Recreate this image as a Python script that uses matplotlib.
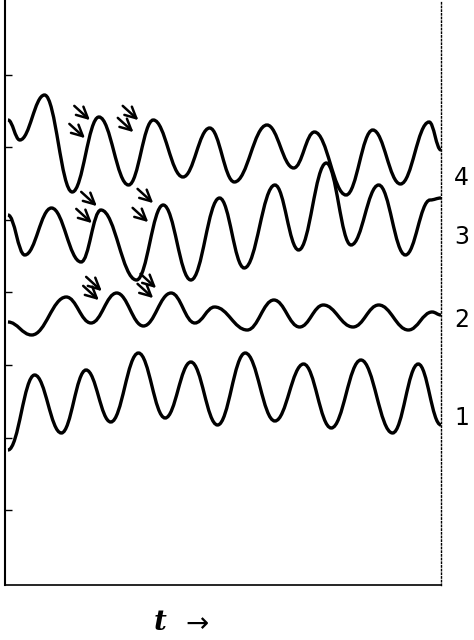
import matplotlib
matplotlib.use("Agg")
import matplotlib.pyplot as plt
from matplotlib.path import Path
from matplotlib.patches import PathPatch

# extrema (x = time, y = signal, screen units, down is larger)
t1 = [3, 30, 57, 82, 107, 135, 162, 188, 215, 243, 273, 302, 330, 360, 392, 418, 441]
y1 = [450, 375, 433, 370, 422, 353, 418, 362, 425, 353, 421, 364, 428, 360, 433, 364, 425]

t2 = [3, 27, 62, 87, 113, 140, 168, 192, 212, 245, 272, 298, 322, 352, 378, 408, 432, 441]
y2 = [322, 335, 297, 323, 293, 326, 293, 323, 307, 330, 300, 327, 305, 327, 305, 330, 312, 315]

t3 = [3, 20, 47, 77, 97, 133, 160, 188, 217, 242, 273, 297, 325, 350, 378, 405, 430, 441]
y3 = [215, 255, 208, 262, 210, 280, 205, 280, 198, 268, 185, 250, 163, 245, 185, 255, 200, 198]

t4 = [3, 15, 40, 68, 95, 125, 150, 180, 207, 232, 265, 292, 313, 345, 372, 400, 429, 441]
y4 = [120, 140, 95, 192, 117, 185, 120, 177, 128, 182, 125, 168, 132, 195, 130, 184, 122, 150]

traces = [(t1, y1), (t2, y2), (t3, y3), (t4, y4)]
labels = ["1", "2", "3", "4"]
label_y = [418, 320, 237, 178]

# arrow tips (pairs on traces 2, 3, 4)
tips_x = [100, 97, 155, 152, 95, 90, 152, 147, 88, 83, 137, 132]
tips_y = [293, 302, 290, 300, 208, 225, 205, 224, 122, 140, 122, 134]

ticks = [75, 147, 220, 292, 365, 438, 510]


def smooth_path(t, y):
    # cubic segments with flat tangents at every extremum -> sine-like arcs
    verts = [(t[0], y[0])]
    codes = [Path.MOVETO]
    for i in range(1, len(t)):
        d = (t[i] - t[i - 1]) * 0.4
        verts += [(t[i - 1] + d, y[i - 1]), (t[i] - d, y[i]), (t[i], y[i])]
        codes += [Path.CURVE4] * 3
    return Path(verts, codes)


fig = plt.figure(figsize=(4.74, 6.4), dpi=100)
ax = fig.add_axes([5 / 474, 55 / 640, 436 / 474, 585 / 640])

for t, y in traces:
    ax.add_patch(PathPatch(smooth_path(t, y), fill=False, color="black", lw=2.4))

for x, y in zip(tips_x, tips_y):
    ax.annotate("", xy=(x, y), xytext=(x - 20, y - 18),
                arrowprops=dict(arrowstyle="->", color="black", lw=1.8,
                                mutation_scale=20))

for lab, y in zip(labels, label_y):
    ax.text(462, y, lab, fontsize=17, ha="center", va="center", clip_on=False)

ax.set_xlim(0, 441)
ax.set_ylim(585, 0)
ax.set_yticks(ticks)
ax.set_yticklabels([])
ax.set_xticks([])
ax.tick_params(axis="y", direction="in", length=5, width=1)
ax.spines["top"].set_visible(False)
ax.spines["right"].set_linestyle(":")
ax.spines["right"].set_linewidth(1)
ax.spines["left"].set_linewidth(1.5)
ax.spines["bottom"].set_linewidth(1.2)

fig.text(160 / 474, 1 - 622 / 640, "t", fontsize=20, ha="center", va="center",
         family="DejaVu Serif", style="italic", weight="bold")
fig.text(197 / 474, 1 - 624 / 640, "\u2192", fontsize=20, ha="center", va="center")

fig.savefig("out.png", dpi=100)
